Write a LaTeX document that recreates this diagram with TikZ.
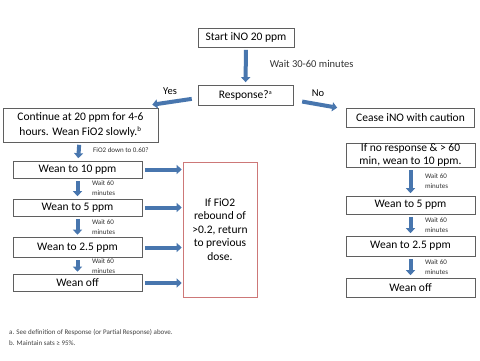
\documentclass[tikz,border=0pt]{standalone}
\usepackage{fontspec}
\setmainfont{Carlito}
\usetikzlibrary{arrows.meta}
\definecolor{arrowblue}{RGB}{72,118,174}
\definecolor{boxgray}{RGB}{95,95,95}
\definecolor{reboundred}{RGB}{205,120,120}

\begin{document}
\begin{tikzpicture}[x=1pt,y=1pt,
  box/.style={draw=boxgray, line width=0.6pt, inner sep=1pt, align=center, font=\fontsize{11.5}{13}\selectfont},
  fatarrow/.style={draw=arrowblue, line width=4pt, -{Triangle[width=9pt,length=5pt]}, shorten <=2.5pt, shorten >=2.5pt},
  waitlbl/.style={anchor=west, xshift=12.5pt, inner sep=0pt, align=left, text=black!80, font=\fontsize{7}{10}\selectfont},
  choice/.style={inner sep=0pt, font=\fontsize{10.5}{12}\selectfont}]
\useasboundingbox (0,0) rectangle (480,360);

% top of the chart
\node[box, minimum width=96pt, minimum height=19pt] (start) at (246,322.5) {Start iNO 20 ppm};
\node[box, minimum width=95pt, minimum height=20pt] (resp) at (245.5,265) {Response?{\fontsize{9}{9}\selectfont\textsuperscript{a}}};
\draw[fatarrow] (start) -- node[waitlbl, xshift=9.5pt, yshift=2pt, font=\fontsize{10.5}{12}\selectfont] (wait30) {Wait 30-60 minutes} (resp);

% Yes branch
\node[box, minimum width=155pt, minimum height=34pt, font=\fontsize{11.5}{15}\selectfont] (cont) at (80.5,235)
  {Continue at 20 ppm for 4-6\\hours. Wean FiO2 slowly.{\fontsize{10}{10}\selectfont\textsuperscript{b}}};
\draw[fatarrow, shorten <=6pt, shorten >=0pt] ([yshift=-3pt]resp.west) -- ([xshift=-6pt,yshift=3pt]cont.north east);
\node[choice] (yes) at (170,269) {Yes};

\node[box, minimum width=129pt, minimum height=17pt] (w10) at (77.5,190.5) {Wean to 10 ppm};
\node[box, minimum width=129pt, minimum height=17pt] (w5) at (77.5,152.5) {Wean to 5 ppm};
\node[box, minimum width=129pt, minimum height=20pt] (w25) at (77.5,112.5) {Wean to 2.5 ppm};
\node[box, minimum width=129pt, minimum height=17pt] (woff) at (77.5,77) {Wean off};
\node[box, draw=reboundred, minimum width=74pt, minimum height=135pt, font=\fontsize{11.5}{13.5}\selectfont] (rebound) at (220,130.5)
  {If FiO2\\rebound of\\>0.2, return\\to previous\\dose.};

\draw[fatarrow] (cont) -- node[waitlbl, yshift=1pt] (fio2) {FiO2 down to 0.60?} (w10);
\draw[fatarrow] (w10) -- node[waitlbl] (lwait1) {Wait 60\\minutes} (w5);
\draw[fatarrow] (w5) -- node[waitlbl] (lwait2) {Wait 60\\minutes} (w25);
\draw[fatarrow] (w25) -- node[waitlbl] (lwait3) {Wait 60\\minutes} (woff);

\foreach \b in {w10,w5,w25,woff}
  \draw[fatarrow, shorten >=1pt] (\b.east) -- (\b.east -| rebound.west);

% No branch
\node[box, minimum width=128pt, minimum height=19pt] (cease) at (410.5,242.5) {Cease iNO with caution};
\draw[fatarrow, shorten <=9pt, shorten >=0pt] ([yshift=-5pt]resp.east) -- ([xshift=-9pt]cease.north west);
\node[choice] (no) at (318,267) {No};

\node[box, minimum width=129pt, minimum height=24pt, font=\fontsize{11.5}{12.5}\selectfont] (noresp) at (410.5,205)
  {If no response \& > 60\\min, wean to 10 ppm.};
\node[box, minimum width=129pt, minimum height=18pt] (r5) at (410.5,155) {Wean to 5 ppm};
\node[box, minimum width=129pt, minimum height=20pt] (r25) at (410.5,114) {Wean to 2.5 ppm};
\node[box, minimum width=129pt, minimum height=19pt] (roff) at (410.5,72.5) {Wean off};

\draw[fatarrow] (noresp) -- node[waitlbl] (rwait1) {Wait 60\\minutes} (r5);
\draw[fatarrow] (r5) -- node[waitlbl] (rwait2) {Wait 60\\minutes} (r25);
\draw[fatarrow] (r25) -- node[waitlbl] (rwait3) {Wait 60\\minutes} (roff);

% footnotes
\node[anchor=north west, inner sep=0pt, align=left, text=black!75, font=\fontsize{7}{11}\selectfont] (notes) at (9,31)
  {a. See definition of Response (or Partial Response) above.\\b. Maintain sats ≥ 95\%.};
\end{tikzpicture}
\end{document}
